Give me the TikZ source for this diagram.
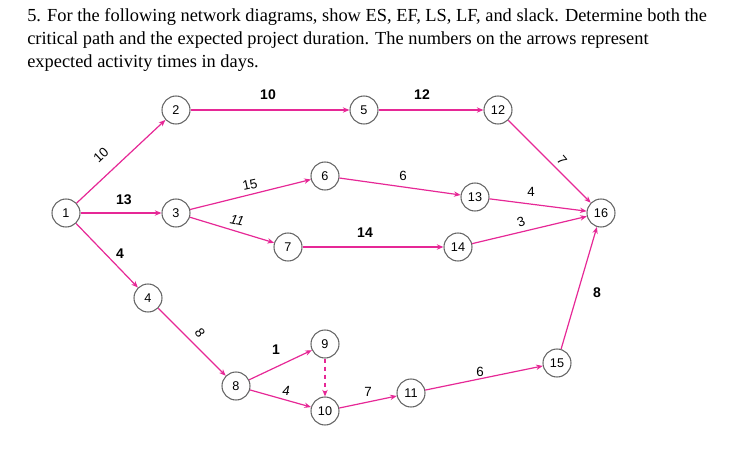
\documentclass[tikz,border=0pt]{standalone}
\usepackage{fontspec}
\setmainfont{Liberation Serif}
\newfontfamily\lsans{Liberation Sans}
\usetikzlibrary{arrows.meta}
\definecolor{arr}{RGB}{230,40,150}
\begin{document}
\begin{tikzpicture}[x=0.75pt,y=-0.75pt,
  nd/.style={circle,draw=gray!80!black,fill=white,line width=0.8pt,minimum size=21pt,inner sep=0pt,font=\lsans\fontsize{9.5}{10}\selectfont},
  ar/.style={draw=arr,line width=0.9pt,-{Stealth[length=5pt,width=4pt]}},
  lb/.style={font=\lsans\fontsize{10}{11}\selectfont,inner sep=1pt},
  lbb/.style={font=\lsans\bfseries\fontsize{10.5}{11}\selectfont,inner sep=1pt}]
\useasboundingbox (0,0) rectangle (749,458);
\node[anchor=north west,align=left,inner sep=0pt,font=\fontsize{13.8}{17.5}\selectfont] (t) at (27,8)
{5. For the following network diagrams, show ES, EF, LS, LF, and slack. Determine both the\\
critical path and the expected project duration. The numbers on the arrows represent\\
expected activity times in days.};
\node[nd] (n1) at (66,213) {1};
\node[nd] (n2) at (176,110) {2};
\node[nd] (n3) at (176,213) {3};
\node[nd] (n4) at (148,298) {4};
\node[nd] (n5) at (364,110) {5};
\node[nd] (n6) at (325,176) {6};
\node[nd] (n7) at (288,247) {7};
\node[nd] (n8) at (236,386) {8};
\node[nd] (n9) at (325,344) {9};
\node[nd] (n10) at (325,411) {10};
\node[nd] (n11) at (411,393) {11};
\node[nd] (n12) at (498,110) {12};
\node[nd] (n13) at (475,197) {13};
\node[nd] (n14) at (458,247) {14};
\node[nd] (n15) at (557,363) {15};
\node[nd] (n16) at (601,213) {16};
\draw[ar] (n1)--(n2); \draw[ar] (n1)--(n3); \draw[ar] (n1)--(n4);
\draw[ar] (n2)--(n5); \draw[ar] (n3)--(n6); \draw[ar] (n3)--(n7);
\draw[ar] (n4)--(n8); \draw[ar] (n5)--(n12); \draw[ar] (n6)--(n13);
\draw[ar] (n7)--(n14); \draw[ar] (n8)--(n9); \draw[ar] (n8)--(n10);
\draw[ar,dashed] (n9)--(n10); \draw[ar] (n10)--(n11); \draw[ar] (n11)--(n15);
\draw[ar] (n12)--(n16); \draw[ar] (n13)--(n16); \draw[ar] (n14)--(n16);
\draw[ar] (n15)--(n16);
\node[lb,rotate=43] (l1) at (101,155) {10};
\node[lbb] (l2) at (124,200) {13};
\node[lbb] (l3) at (120,254) {4};
\node[lbb] (l4) at (268,95) {10};
\node[lb,rotate=12] (l5) at (250,185) {15};
\node[lb,font=\lsans\itshape\fontsize{10}{11}\selectfont,rotate=-12] (l6) at (237,220) {11};
\node[lb,rotate=-55] (l7) at (200,333) {8};
\node[lbb] (l8) at (422,95) {12};
\node[lb] (l9) at (403,176) {6};
\node[lbb] (l10) at (365,233) {14};
\node[lbb] (l11) at (276,350) {1};
\node[lb,font=\lsans\itshape\fontsize{10}{11}\selectfont] (l12) at (286,391) {4};
\node[lb] (l13) at (368,392) {7};
\node[lb] (l14) at (480,372) {6};
\node[lb,rotate=-50] (l15) at (562,160) {7};
\node[lb] (l16) at (531,192) {4};
\node[lb,rotate=20] (l17) at (521,222) {3};
\node[lbb] (l18) at (597,293) {8};
\end{tikzpicture}
\end{document}
